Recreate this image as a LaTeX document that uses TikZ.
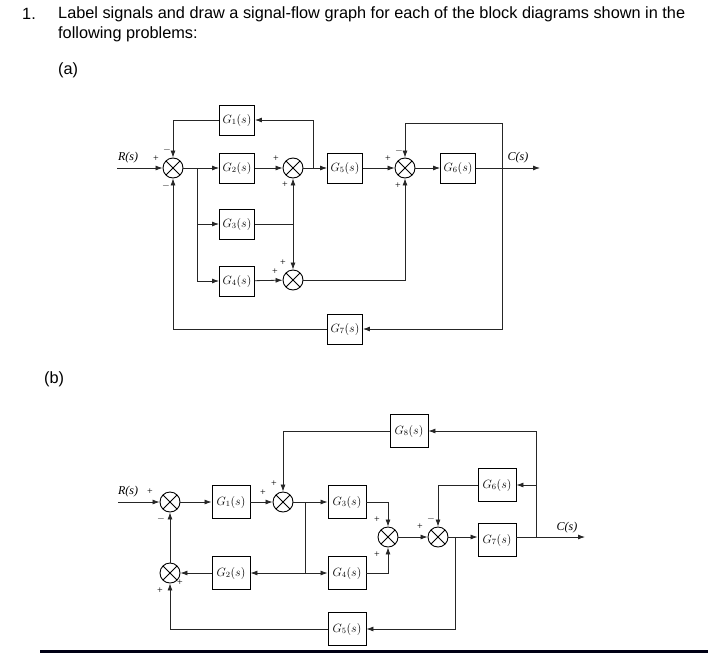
\documentclass[tikz,border=0pt]{standalone}
\usepackage{fontspec}
\setmainfont{Liberation Sans}
\newfontfamily\serf{Liberation Serif}
\usetikzlibrary{arrows.meta}
\begin{document}
\begin{tikzpicture}[x=1pt,y=-1pt,
  ln/.style={line width=0.8pt,draw=black!85},
  ar/.style={ln,-{Latex[length=7pt,width=5pt]}},
  blk/.style={draw,line width=0.9pt,minimum width=35pt,minimum height=30pt,inner sep=0pt,font=\fontsize{11.5}{14}\selectfont},
  blkb/.style={blk,minimum width=38pt,minimum height=33pt,font=\fontsize{12}{14}\selectfont},
  sum/.style={draw,circle,line width=0.9pt,minimum size=20pt,inner sep=0pt,
    path picture={\draw[line width=0.9pt] (path picture bounding box.center) +(45:10pt) -- +(225:10pt) +(135:10pt) -- +(315:10pt);}},
  sg/.style={font=\fontsize{10}{11}\selectfont\serf,inner sep=0pt},
  lbl/.style={font=\fontsize{12}{14}\selectfont\serf\itshape,inner sep=0pt},
  tx/.style={anchor=west,font=\fontsize{16.3}{18}\selectfont,inner sep=0pt}]
\useasboundingbox (0,0) rectangle (708,653);
\fill[black!80!blue!40!black] (40,650) rectangle (708,653);
% text
\node[tx] (t1) at (22,14) {1.};
\node[tx] (t2) at (58,14) {Label signals and draw a signal-flow graph for each of the block diagrams shown in the};
\node[tx] (t3) at (58,34) {following problems:};
\node[tx] (ta) at (58,70) {(a)};
\node[tx] (tb) at (44,379) {(b)};
% ---------- (a)
\node[sum] (s1) at (173,168) {};
\node[sum] (s2) at (293,168) {};
\node[sum] (s3) at (293,280) {};
\node[sum] (s4) at (405,168) {};
\node[blk] (g1) at (237,120) {$G_1(s)$};
\node[blk] (g2) at (237,168) {$G_2(s)$};
\node[blk] (g3) at (237,224) {$G_3(s)$};
\node[blk] (g4) at (237,281) {$G_4(s)$};
\node[blk] (g5) at (345,168) {$G_5(s)$};
\node[blk] (g6) at (458,168) {$G_6(s)$};
\node[blk] (g7) at (345,329) {$G_7(s)$};
\coordinate (ain) at (117,168);
\coordinate (aout) at (540,168);
\node[lbl] (aR) at (128,158) {R(s)};
\node[lbl] (aC) at (518,158) {C(s)};
\coordinate (b1) at (197,168);
\coordinate (b2) at (313,168);
\coordinate (b3) at (502,168);
\coordinate (j3) at (293,224);
\draw[ar] (ain) -- (s1);
\draw[ln] (s1) -- (b1);
\draw[ar] (b1) -- (g2);
\draw[ar] (b1) |- (g3);
\draw[ar] (b1) |- (g4);
\draw[ar] (g2) -- (s2);
\draw[ar] (s2) -- (g5);
\draw[ar] (b2) |- (g1);
\draw[ar] (g1) -| (s1);
\draw[ln] (g3) -- (j3);
\draw[ar] (j3) -- (s2);
\draw[ar] (j3) -- (s3);
\draw[ar] (g4) -- (s3);
\draw[ar] (s3) -| (s4);
\draw[ar] (g5) -- (s4);
\draw[ar] (s4) -- (g6);
\draw[ar] (g6) -- (aout);
\draw[ar] (b3) |- (405,123) -- (s4);
\draw[ar] (b3) |- (g7);
\draw[ar] (g7) -| (s1);
\node[sg] at (156,159) {+};
\node[sg] at (167,150) {$-$};
\node[sg] at (166,186) {$-$};
\node[sg] at (276,159) {+};
\node[sg] at (285,185) {+};
\node[sg] at (388,159) {+};
\node[sg] at (399,151) {$-$};
\node[sg] at (398,186) {+};
\node[sg] at (283,263) {+};
\node[sg] at (275,272) {+};
% ---------- (b)
\node[sum] (sa) at (170,502) {};
\node[sum] (sb) at (283,502) {};
\node[sum] (sc) at (170,573) {};
\node[sum] (sd) at (388,537) {};
\node[sum] (se) at (438,537) {};
\node[blkb] (h1) at (231,502) {$G_1(s)$};
\node[blkb] (h2) at (231,573) {$G_2(s)$};
\node[blkb] (h3) at (347,502) {$G_3(s)$};
\node[blkb] (h4) at (347,573) {$G_4(s)$};
\node[blkb] (h5) at (347,629) {$G_5(s)$};
\node[blkb] (h6) at (497,485) {$G_6(s)$};
\node[blkb] (h7) at (497,540) {$G_7(s)$};
\node[blkb] (h8) at (409,431) {$G_8(s)$};
\coordinate (bin) at (118,502);
\coordinate (bout) at (585,537);
\node[lbl] (bR) at (128,492) {R(s)};
\node[lbl] (bC) at (567,528) {C(s)};
\coordinate (c1) at (305,502);
\coordinate (c2) at (305,573);
\coordinate (c3) at (455,537);
\coordinate (c4) at (536,537);
\coordinate (c5) at (536,485);
\draw[ar] (bin) -- (sa);
\draw[ar] (sa) -- (h1);
\draw[ar] (h1) -- (sb);
\draw[ar] (sb) -- (h3);
\draw[ln] (c1) -- (c2);
\draw[ar] (c2) -- (h4);
\draw[ar] (c2) -- (h2);
\draw[ar] (h2) -- (sc);
\draw[ar] (sc) -- (sa);
\draw[ar] (h3) -| (sd);
\draw[ar] (h4) -| (sd);
\draw[ar] (sd) -- (se);
\draw[ar] (se) -- (h7.west |- se);
\draw[ln] (h7.east |- se) -- (c4);
\draw[ar] (c4) -- (bout);
\draw[ln] (c4) -- (536,431);
\draw[ar] (536,431) -- (h8);
\draw[ar] (c5) -- (h6);
\draw[ar] (h6) -| (se);
\draw[ar] (h8) -| (sb);
\draw[ar] (c3) |- (h5);
\draw[ar] (h5) -| (sc);
\node[sg] at (150,492) {+};
\node[sg] at (161,519) {$-$};
\node[sg] at (263,493) {+};
\node[sg] at (274,484) {+};
\node[sg] at (180,583) {+};
\node[sg] at (160,591) {+};
\node[sg] at (377,520) {+};
\node[sg] at (377,555) {+};
\node[sg] at (420,527) {+};
\node[sg] at (431,519) {$-$};
\end{tikzpicture}
\end{document}
